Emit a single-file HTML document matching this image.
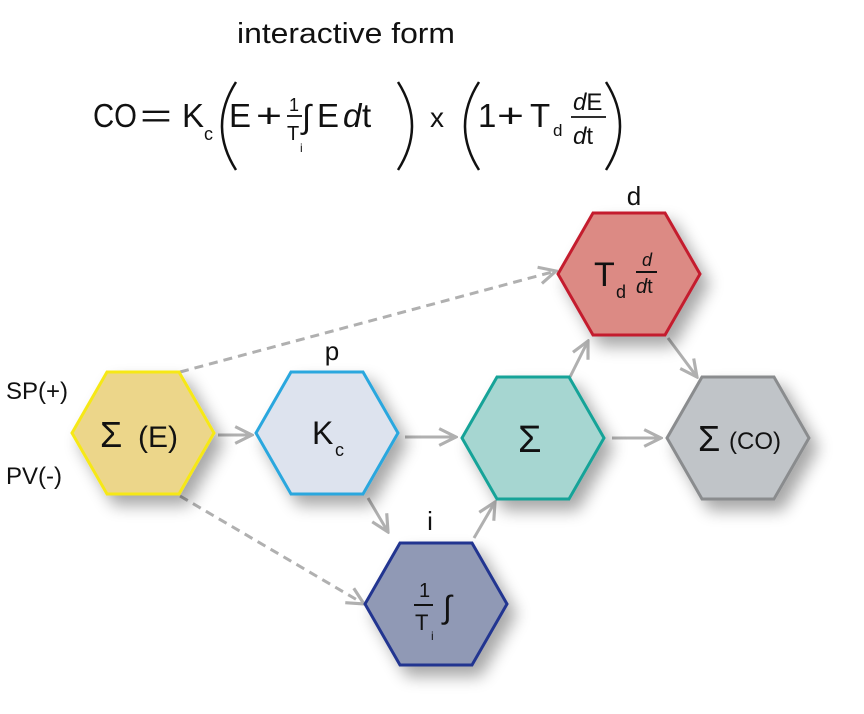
<!DOCTYPE html>
<html><head><meta charset="utf-8"><style>
html,body{margin:0;padding:0;background:#fff;}
svg{display:block;font-family:"Liberation Sans","DejaVu Sans",sans-serif;}
</style></head><body>
<svg width="864" height="714" viewBox="0 0 864 714" xmlns="http://www.w3.org/2000/svg">
<defs>
<filter id="sh" x="-30%" y="-30%" width="170%" height="170%"><feGaussianBlur in="SourceAlpha" stdDeviation="8"/><feOffset dx="8" dy="10"/><feComponentTransfer><feFuncA type="linear" slope="0.35"/></feComponentTransfer><feMerge><feMergeNode/><feMergeNode in="SourceGraphic"/></feMerge></filter>
<marker id="ar" viewBox="0 0 10 10" refX="9" refY="5" markerWidth="7" markerHeight="7" orient="auto"><path d="M1,1 L9,5 L1,9" fill="none" stroke="#b0b0b0" stroke-width="1.5"/></marker>
</defs>
<text x="237" y="43" font-size="29" textLength="218" lengthAdjust="spacingAndGlyphs" fill="#111">interactive form</text>
<g fill="#111" font-size="33">
<text x="93" y="127" textLength="44" lengthAdjust="spacingAndGlyphs">CO</text>
<text x="140" y="127" textLength="32" lengthAdjust="spacingAndGlyphs">=</text>
<text x="182" y="127">K</text>
<text x="204" y="140" font-size="18">c</text>
<text x="229" y="127">E</text>
<text x="256" y="127" textLength="26" lengthAdjust="spacingAndGlyphs">+</text>
<text x="289" y="111" font-size="18">1</text>
<line x1="287" y1="116" x2="302" y2="116" stroke="#111" stroke-width="1.8"/>
<text x="287" y="140" font-size="20">T</text>
<text x="300" y="152" font-size="12">i</text>
<text x="302" y="128">∫</text>
<text x="317" y="127">E</text>
<text x="343" y="127" font-style="italic">d</text>
<text x="362" y="127">t</text>
<text x="430" y="127" font-size="28">x</text>
<text x="478" y="127">1</text>
<text x="497" y="127" textLength="27" lengthAdjust="spacingAndGlyphs">+</text>
<text x="530" y="127">T</text>
<text x="553" y="136" font-size="17">d</text>
<text x="573" y="110" font-size="24"><tspan font-style="italic">d</tspan>E</text>
<line x1="571" y1="117" x2="606" y2="117" stroke="#111" stroke-width="1.8"/>
<text x="573" y="144" font-size="24"><tspan font-style="italic">d</tspan>t</text>
</g>
<g fill="none" stroke="#111" stroke-width="2.5">
<path d="M236,82 Q208,126 236,170"/>
<path d="M398,82 Q426,126 398,170"/>
<path d="M479,82 Q451,126 479,170"/>
<path d="M606,82 Q634,126 606,170"/>
</g>
<text x="6" y="399" font-size="24" fill="#111">SP(+)</text>
<text x="6" y="484" font-size="24" fill="#111">PV(-)</text>
<text x="332" y="360" font-size="26" text-anchor="middle" fill="#111">p</text>
<text x="634" y="205" font-size="26" text-anchor="middle" fill="#111">d</text>
<text x="430" y="530" font-size="26" text-anchor="middle" fill="#111">i</text>
<g stroke="#b0b0b0" stroke-width="3" fill="none" marker-end="url(#ar)">
<line x1="218" y1="435" x2="252" y2="435"/>
<line x1="405" y1="437" x2="456" y2="437"/>
<line x1="612" y1="438" x2="661" y2="438"/>
<line x1="570" y1="377" x2="588" y2="341"/>
<line x1="668" y1="338" x2="697" y2="377"/>
<line x1="368" y1="498" x2="388" y2="532"/>
<line x1="474" y1="538" x2="495" y2="502"/>
<line x1="180" y1="372" x2="556" y2="271" stroke-dasharray="9,6"/>
<line x1="180" y1="496" x2="364" y2="604" stroke-dasharray="9,6"/>
</g>
<g filter="url(#sh)" stroke-width="3">
<polygon points="72,433 107,372 179,372 214,433 179,494 107,494" fill="#ecd68a" stroke="#f6e817"/>
<polygon points="256,433 291,372 363,372 398,433 363,494 291,494" fill="#dde3ee" stroke="#2aa7de"/>
<polygon points="462,438 497,377 569,377 604,438 569,499 497,499" fill="#a6d6d1" stroke="#17a398"/>
<polygon points="667,438 702,377 774,377 809,438 774,499 702,499" fill="#c0c4c8" stroke="#8a8c8e"/>
<polygon points="558,274 593,213 665,213 700,274 665,335 593,335" fill="#dc8a84" stroke="#c41e2e"/>
<polygon points="365,604 400,543 472,543 507,604 472,665 400,665" fill="#9099b5" stroke="#233590"/>
</g>
<g fill="#111">
<text x="100" y="447" font-size="36">Σ</text><text x="138" y="447" font-size="30">(E)</text>
<text x="312" y="444" font-size="32">K</text><text x="335" y="456" font-size="18">c</text>
<text x="518" y="452" font-size="38">Σ</text>
<text x="698" y="451" font-size="36">Σ</text><text x="729" y="449" font-size="24">(CO)</text>
<text x="594" y="286" font-size="34">T</text><text x="616" y="298" font-size="18">d</text>
<text x="642" y="266" font-size="18" font-style="italic">d</text>
<line x1="636" y1="272" x2="657" y2="272" stroke="#111" stroke-width="2"/>
<text x="636" y="293" font-size="20"><tspan font-style="italic">d</tspan>t</text>
<text x="419" y="597" font-size="20">1</text>
<line x1="414" y1="605" x2="433" y2="605" stroke="#111" stroke-width="2"/>
<text x="415" y="630" font-size="22">T</text><text x="431" y="640" font-size="12">i</text>
<text x="443" y="618" font-size="32">∫</text>
</g>
</svg>
</body></html>
